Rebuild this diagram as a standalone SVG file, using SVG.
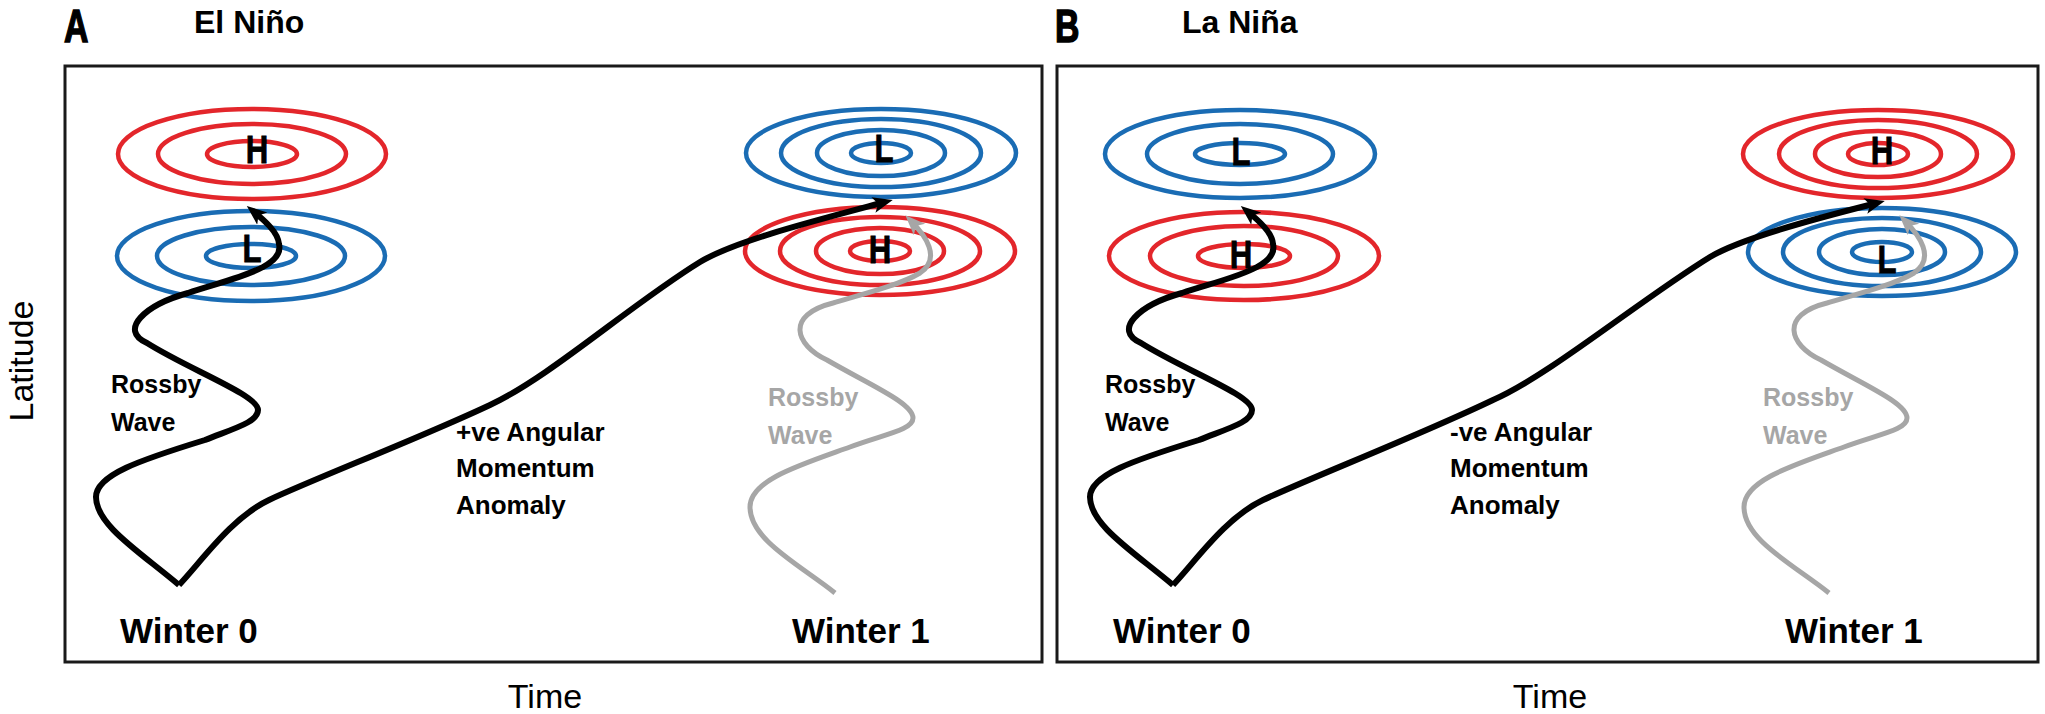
<svg xmlns="http://www.w3.org/2000/svg" width="2045" height="714" viewBox="0 0 2045 714">
<style>
.frame{fill:none;stroke:#1a1a1a;stroke-width:3}
.red{fill:none;stroke:#e3262b;stroke-width:4.5}
.blue{fill:none;stroke:#1a6cb4;stroke-width:4.5}
.hl{font-family:'Liberation Sans',Arial,sans-serif;font-weight:bold;font-size:39px;fill:#000;stroke:#000;stroke-width:0.8;text-anchor:middle}
.panel{font-family:'Liberation Sans',Arial,sans-serif;font-weight:bold;font-size:47px;fill:#000;stroke:#000;stroke-width:1.5}
.title{font-family:'Liberation Sans',Arial,sans-serif;font-weight:bold;font-size:32px;fill:#000}
.lbl{font-family:'Liberation Sans',Arial,sans-serif;font-weight:bold;font-size:25px;fill:#000}
.gry{fill:#a6a6a6}
.ang{font-family:'Liberation Sans',Arial,sans-serif;font-weight:bold;font-size:26px;fill:#000}
.win{font-family:'Liberation Sans',Arial,sans-serif;font-weight:bold;font-size:35px;fill:#000}
.axis{font-family:'Liberation Sans',Arial,sans-serif;font-size:34px;fill:#000}
.blk{fill:none;stroke:#000;stroke-width:6}
.gw{fill:none;stroke:#a6a6a6;stroke-width:5}
</style>
<defs>
<marker id="ahB" markerUnits="userSpaceOnUse" markerWidth="22" markerHeight="18" refX="12" refY="8" orient="auto"><path d="M0,0 L20,8 L0,16 L5,8 Z" fill="#000"/></marker>
<marker id="ahG" markerUnits="userSpaceOnUse" markerWidth="22" markerHeight="18" refX="12" refY="8" orient="auto"><path d="M0,0 L20,8 L0,16 L5,8 Z" fill="#a6a6a6"/></marker>
</defs>
<rect width="2045" height="714" fill="#fff"/>

<g id="frames">
<rect class="frame" x="65" y="66" width="977" height="596"/>
<rect class="frame" x="1057" y="66" width="981" height="596"/>
</g>

<g id="titles">
<text class="panel" transform="translate(64,42) scale(0.72,1)">A</text>
<text class="title" x="194" y="33">El Niño</text>
<text class="panel" transform="translate(1055,42) scale(0.72,1)">B</text>
<text class="title" x="1182" y="33">La Niña</text>
<text class="axis" transform="translate(33,361) rotate(-90)" text-anchor="middle">Latitude</text>
<text class="axis" x="545" y="708" text-anchor="middle">Time</text>
<text class="axis" x="1550" y="708" text-anchor="middle">Time</text>
</g>

<g id="a-high-w0">
<ellipse class="red" cx="252" cy="154" rx="134" ry="45"/>
<ellipse class="red" cx="252" cy="154" rx="94" ry="30"/>
<ellipse class="red" cx="252" cy="154" rx="45" ry="13"/>
<text class="hl" transform="translate(257,163) scale(0.8,1)">H</text>
</g>
<g id="a-low-w0">
<ellipse class="blue" cx="251" cy="256" rx="134" ry="45"/>
<ellipse class="blue" cx="251" cy="256" rx="94" ry="29"/>
<ellipse class="blue" cx="251" cy="256" rx="45" ry="12"/>
<text class="hl" transform="translate(252,262) scale(0.8,1)">L</text>
</g>
<g id="a-low-w1">
<ellipse class="blue" cx="881" cy="153" rx="135" ry="44"/>
<ellipse class="blue" cx="881" cy="153" rx="100" ry="34"/>
<ellipse class="blue" cx="881" cy="153" rx="64" ry="23"/>
<ellipse class="blue" cx="881" cy="153" rx="30" ry="10"/>
<text class="hl" transform="translate(884,162) scale(0.8,1)">L</text>
</g>
<g id="a-high-w1">
<ellipse class="red" cx="880" cy="251" rx="135" ry="44"/>
<ellipse class="red" cx="880" cy="251" rx="100" ry="34"/>
<ellipse class="red" cx="880" cy="251" rx="64" ry="23"/>
<ellipse class="red" cx="880" cy="251" rx="30" ry="10"/>
<text class="hl" transform="translate(880,263) scale(0.8,1)">H</text>
</g>

<g id="b-low-w0">
<ellipse class="blue" cx="1240" cy="154" rx="135" ry="44"/>
<ellipse class="blue" cx="1240" cy="154" rx="93" ry="30"/>
<ellipse class="blue" cx="1240" cy="154" rx="45" ry="11"/>
<text class="hl" transform="translate(1241,165) scale(0.8,1)">L</text>
</g>
<g id="b-high-w0">
<ellipse class="red" cx="1244" cy="256" rx="135" ry="44"/>
<ellipse class="red" cx="1244" cy="256" rx="94" ry="30"/>
<ellipse class="red" cx="1244" cy="256" rx="46" ry="12"/>
<text class="hl" transform="translate(1241,268) scale(0.8,1)">H</text>
</g>
<g id="b-high-w1">
<ellipse class="red" cx="1878" cy="154" rx="135" ry="44"/>
<ellipse class="red" cx="1878" cy="154" rx="99" ry="34"/>
<ellipse class="red" cx="1878" cy="154" rx="63" ry="23"/>
<ellipse class="red" cx="1878" cy="154" rx="30" ry="11"/>
<text class="hl" transform="translate(1882,164) scale(0.8,1)">H</text>
</g>
<g id="b-low-w1">
<ellipse class="blue" cx="1882" cy="252" rx="134" ry="44"/>
<ellipse class="blue" cx="1882" cy="252" rx="99" ry="34"/>
<ellipse class="blue" cx="1882" cy="252" rx="63" ry="23"/>
<ellipse class="blue" cx="1882" cy="252" rx="30" ry="10"/>
<text class="hl" transform="translate(1887,273) scale(0.8,1)">L</text>
</g>

<g id="connectors">
<g id="a-connectors">
<path class="blk" marker-end="url(#ahB)" d="M179,585 C140,552 96,525 96,497 C96,475 140,460 205,440 C235,428 258,422 258,410 C258,395 190,370 147,343 C118,330 145,305 188,293 C215,284 245,277 263,267 C276,260 281,252 279,244 C278,232 264,220 253,211"/>
<path class="blk" marker-end="url(#ahB)" d="M179,585 C201,562 231,518 269,500 C316,478 420,438 490,405 C550,377 630,305 700,262 C735,241 810,222 885,202"/>
<path class="gw" marker-end="url(#ahG)" d="M835,593 C800,565 750,540 750,507 C750,480 800,465 850,447 C885,434 913,430 913,418 C913,403 870,385 827,360 C795,345 785,315 833,303 C860,295 900,285 920,273 C942,258 925,235 911,221"/>
</g>
<g id="b-connectors">
<path class="blk" marker-end="url(#ahB)" transform="translate(994,0)" d="M179,585 C140,552 96,525 96,497 C96,475 140,460 205,440 C235,428 258,422 258,410 C258,395 190,370 147,343 C118,330 145,305 188,293 C215,284 245,277 263,267 C276,260 281,252 279,244 C278,232 264,220 253,211"/>
<path class="blk" marker-end="url(#ahB)" d="M1173,585 C1195,562 1225,518 1263,500 C1310,478 1420,435 1493,400 C1550,375 1640,300 1710,257 C1740,239 1810,220 1877,203"/>
<path class="gw" marker-end="url(#ahG)" transform="translate(994,0)" d="M835,593 C800,565 750,540 750,507 C750,480 800,465 850,447 C885,434 913,430 913,418 C913,403 870,385 827,360 C795,345 785,315 833,303 C860,295 900,285 920,273 C942,258 925,235 911,221"/>
</g>
</g>

<g id="labels">
<text class="lbl" x="111" y="393">Rossby</text>
<text class="lbl" x="111" y="431">Wave</text>
<text class="lbl gry" x="768" y="406">Rossby</text>
<text class="lbl gry" x="768" y="444">Wave</text>
<text class="ang" x="456" y="441">+ve Angular</text>
<text class="ang" x="456" y="477">Momentum</text>
<text class="ang" x="456" y="514">Anomaly</text>
<text class="win" x="120" y="643">Winter 0</text>
<text class="win" x="792" y="643">Winter 1</text>
<text class="lbl" x="1105" y="393">Rossby</text>
<text class="lbl" x="1105" y="431">Wave</text>
<text class="lbl gry" x="1763" y="406">Rossby</text>
<text class="lbl gry" x="1763" y="444">Wave</text>
<text class="ang" x="1450" y="441">-ve Angular</text>
<text class="ang" x="1450" y="477">Momentum</text>
<text class="ang" x="1450" y="514">Anomaly</text>
<text class="win" x="1113" y="643">Winter 0</text>
<text class="win" x="1785" y="643">Winter 1</text>
</g>
</svg>
